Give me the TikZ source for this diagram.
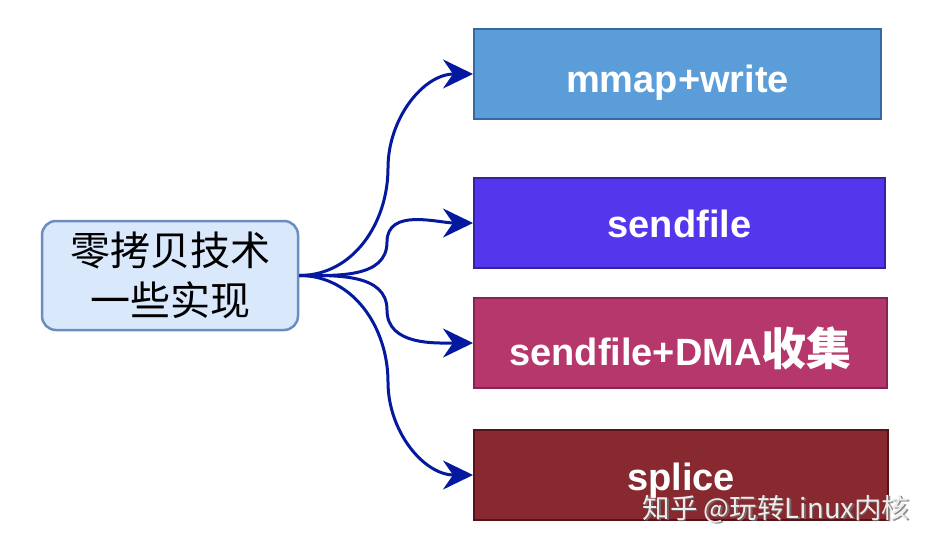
\documentclass[tikz,border=0pt]{standalone}
\usepackage{fontspec}
\setmainfont{Liberation Sans}
\newfontfamily\cjk{Noto Sans CJK SC}
\usetikzlibrary{arrows.meta}
\definecolor{rootfill}{RGB}{218,232,252}
\definecolor{rootline}{RGB}{108,142,191}
\definecolor{cA}{RGB}{91,157,217}
\definecolor{cAl}{RGB}{55,105,160}
\definecolor{cB}{RGB}{84,54,236}
\definecolor{cBl}{RGB}{50,35,160}
\definecolor{cC}{RGB}{181,55,107}
\definecolor{cCl}{RGB}{135,35,78}
\definecolor{cD}{RGB}{135,41,46}
\definecolor{cDl}{RGB}{85,20,25}
\definecolor{conncol}{RGB}{5,25,160}
\begin{document}
\begin{tikzpicture}[x=1pt,y=-1pt,
  rootbox/.style={draw=rootline,fill=rootfill,line width=2.5pt,rounded corners=14pt,
    minimum width=256pt,minimum height=109pt,align=center,
    font=\cjk\fontsize{40}{50}\selectfont,text=black},
  techbox/.style={line width=2pt,minimum height=90pt,text=white,text depth=0pt,
    font=\bfseries\fontsize{38}{40}\selectfont},
  conn/.style={draw=conncol,line width=3pt,
    -{Stealth[length=30pt,width=29pt,inset=10pt,fill=conncol]}},
  wmtext/.style={font=\cjk\fontsize{27.5}{28}\selectfont,inner sep=0pt}]
\useasboundingbox (0,0) rectangle (936,548);
\fill[white] (0,0) rectangle (936,548);
\node[rootbox] (root) at (170,275.5) {零拷贝技术\\一些实现};
\node[techbox,draw=cAl,fill=cA,minimum width=407pt,text height=38pt] (b1) at (677.5,74) {mmap+write};
\node[techbox,draw=cBl,fill=cB,minimum width=411pt,text height=28pt] (b2) at (679.5,223) {sendfile};
\node[techbox,draw=cCl,fill=cC,minimum width=413pt,text height=44pt] (b3) at (680.5,343)
  {sendfile+DMA{\cjk\fontsize{45}{45}\selectfont 收集}};
\node[techbox,draw=cDl,fill=cD,minimum width=414pt,text height=30pt] (b4) at (681,475) {splice};
\coordinate (m1) at (388,168);
\coordinate (m2) at (387,242);
\coordinate (m3) at (387,310);
\coordinate (m4) at (388,382);
\draw[conn] (root.east) to[out=0,in=-90] (m1) to[out=90,in=180] (b1.west);
\draw[conn] (root.east) to[out=0,in=-90] (m2) to[out=90,in=180] (b2.west);
\draw[conn] (root.east) to[out=0,in=90] (m3) to[out=-90,in=180] (b3.west);
\draw[conn] (root.east) to[out=0,in=90] (m4) to[out=-90,in=180] (b4.west);
\node[wmtext,text=black!55,opacity=0.8] (wms) at (777.5,510.5) {知乎 @玩转Linux内核};
\node[wmtext,text=white!93!black] (wm) at (776,509) {知乎 @玩转Linux内核};
\end{tikzpicture}
\end{document}
